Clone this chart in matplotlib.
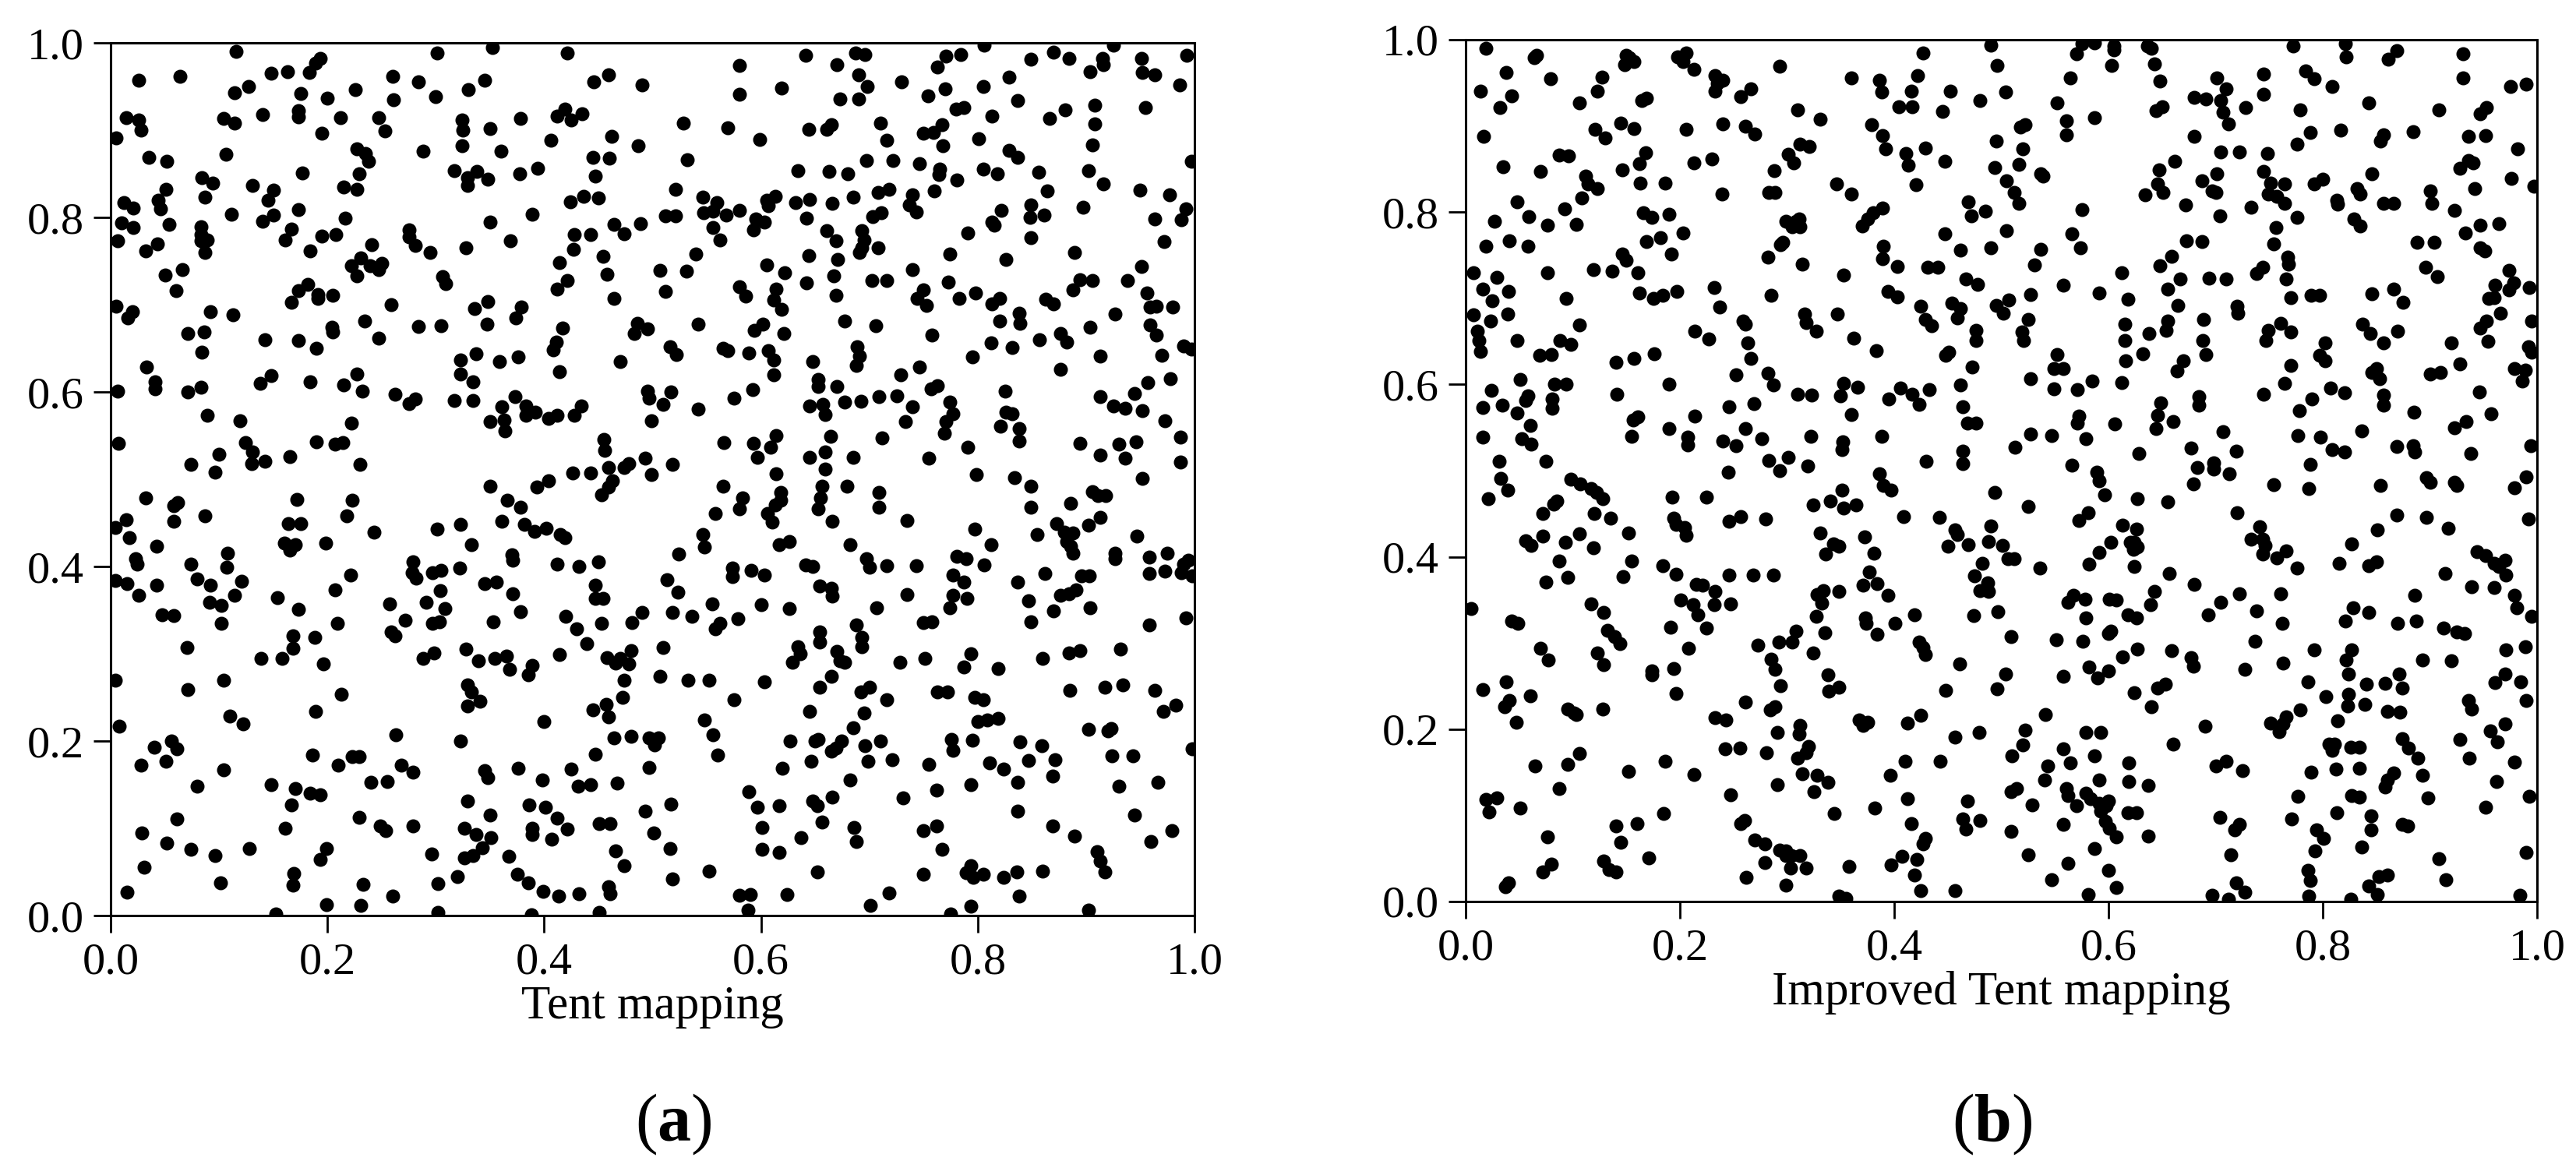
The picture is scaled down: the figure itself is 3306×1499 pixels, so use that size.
import matplotlib
matplotlib.use('Agg')
import matplotlib.pyplot as plt
import numpy as np
from matplotlib.ticker import FormatStrFormatter

# points, (x, y) per quadrant of each panel

tent_upper_left = [
    (0.116,0.99),(0.301,0.988),(0.352,0.995),(0.421,0.988),(0.026,0.957),(0.064,0.962),(0.148,0.965),(0.163,0.967),
    (0.183,0.966),(0.189,0.977),(0.193,0.982),(0.26,0.962),(0.284,0.955),(0.345,0.957),(0.446,0.955),(0.459,0.963),
    (0.49,0.952),(0.114,0.943),(0.127,0.95),(0.175,0.942),(0.2,0.937),(0.226,0.946),(0.261,0.935),(0.3,0.938),
    (0.33,0.946),(0.014,0.914),(0.026,0.912),(0.028,0.9),(0.104,0.913),(0.114,0.908),(0.14,0.918),(0.173,0.922),
    (0.173,0.915),(0.212,0.914),(0.247,0.914),(0.253,0.899),(0.324,0.912),(0.325,0.9),(0.35,0.902),(0.378,0.913),
    (0.412,0.916),(0.419,0.924),(0.425,0.912),(0.435,0.919),(0.005,0.891),(0.195,0.896),(0.462,0.893),(0.035,0.869),
    (0.052,0.864),(0.106,0.872),(0.288,0.876),(0.324,0.882),(0.36,0.876),(0.406,0.888),(0.445,0.869),(0.46,0.868),
    (0.487,0.882),(0.227,0.879),(0.235,0.873),(0.238,0.864),(0.177,0.851),(0.229,0.85),(0.317,0.854),(0.329,0.846),
    (0.338,0.853),(0.348,0.844),(0.329,0.837),(0.377,0.85),(0.394,0.856),(0.447,0.847),(0.084,0.846),(0.094,0.839),
    (0.131,0.837),(0.15,0.831),(0.215,0.835),(0.227,0.832),(0.051,0.832),(0.012,0.817),(0.021,0.811),(0.044,0.82),
    (0.046,0.81),(0.087,0.823),(0.145,0.82),(0.424,0.818),(0.436,0.824),(0.45,0.822),(0.01,0.794),(0.021,0.788),
    (0.054,0.792),(0.111,0.804),(0.14,0.796),(0.15,0.803),(0.173,0.809),(0.216,0.799),(0.35,0.795),(0.389,0.804),
    (0.464,0.792),(0.474,0.781),(0.489,0.793),(0.006,0.773),(0.032,0.762),(0.043,0.77),(0.083,0.789),(0.083,0.78),
    (0.083,0.773),(0.089,0.774),(0.087,0.76),(0.161,0.774),(0.167,0.787),(0.184,0.762),(0.195,0.779),(0.208,0.78),
    (0.275,0.786),(0.275,0.778),(0.281,0.768),(0.295,0.76),(0.241,0.769),(0.328,0.765),(0.369,0.773),(0.428,0.78),
    (0.443,0.78),(0.427,0.763),(0.414,0.748),(0.454,0.755),(0.458,0.735),(0.464,0.707),(0.05,0.734),(0.066,0.74),
    (0.06,0.716),(0.222,0.745),(0.231,0.754),(0.227,0.733),(0.239,0.745),(0.247,0.74),(0.25,0.747),(0.306,0.732),
    (0.309,0.724),(0.412,0.718),(0.421,0.728),(0.173,0.716),(0.182,0.723),(0.191,0.712),(0.191,0.707),(0.205,0.711),
    (0.167,0.703),(0.005,0.698),(0.016,0.685),(0.02,0.692),(0.092,0.692),(0.113,0.688),(0.259,0.7),(0.336,0.696),
    (0.348,0.704),(0.347,0.678),(0.374,0.685),(0.379,0.697),(0.234,0.681),(0.204,0.674),(0.205,0.669),(0.284,0.675),
    (0.305,0.676),(0.417,0.673),(0.483,0.667),(0.486,0.679),(0.495,0.672),(0.071,0.667),(0.086,0.669),(0.084,0.646),
    (0.142,0.66),(0.173,0.659),(0.19,0.65),(0.247,0.662),(0.323,0.637),(0.323,0.621),(0.334,0.612),(0.337,0.644),
    (0.359,0.635),(0.376,0.64),(0.408,0.648),(0.411,0.657),(0.414,0.623),(0.47,0.635),(0.033,0.629),(0.041,0.612),
    (0.041,0.604),(0.006,0.601),(0.071,0.6),(0.083,0.605),(0.138,0.61),(0.148,0.619),(0.184,0.612),(0.215,0.608),
    (0.227,0.621),(0.232,0.601),(0.262,0.597),(0.275,0.587),(0.281,0.592),(0.317,0.59),(0.334,0.59),(0.35,0.566),
    (0.361,0.583),(0.363,0.568),(0.364,0.555),(0.373,0.595),(0.383,0.584),(0.383,0.573),(0.392,0.577),(0.404,0.57),
    (0.412,0.573),(0.428,0.573),(0.434,0.584),(0.495,0.601),(0.497,0.593),(0.089,0.573),(0.119,0.567),(0.222,0.564),
    (0.007,0.541),(0.124,0.542),(0.131,0.531),(0.13,0.518),(0.142,0.521),(0.165,0.526),(0.19,0.543),(0.207,0.54),
    (0.214,0.542),(0.23,0.517),(0.074,0.517),(0.1,0.529),(0.096,0.508),(0.455,0.546),(0.456,0.533),(0.459,0.513),
    (0.426,0.507),(0.443,0.507),(0.474,0.513),(0.478,0.518),(0.493,0.524),(0.499,0.505),
]

tent_upper_right = [
    (0.641,0.986),(0.67,0.975),(0.687,0.988),(0.696,0.987),(0.69,0.963),(0.698,0.95),(0.673,0.936),(0.69,0.936),
    (0.58,0.974),(0.58,0.941),(0.619,0.948),(0.528,0.908),(0.569,0.903),(0.599,0.889),(0.644,0.901),(0.661,0.901),
    (0.665,0.906),(0.532,0.866),(0.73,0.955),(0.754,0.939),(0.763,0.972),(0.771,0.985),(0.784,0.987),(0.806,0.997),
    (0.77,0.947),(0.78,0.924),(0.787,0.926),(0.805,0.95),(0.829,0.961),(0.837,0.934),(0.849,0.981),(0.87,0.989),
    (0.884,0.982),(0.904,0.967),(0.915,0.982),(0.916,0.975),(0.925,0.997),(0.951,0.982),(0.952,0.966),(0.963,0.963),
    (0.986,0.952),(0.993,0.986),(0.955,0.926),(0.908,0.929),(0.881,0.923),(0.866,0.913),(0.813,0.916),(0.71,0.908),
    (0.716,0.888),(0.75,0.896),(0.759,0.897),(0.767,0.906),(0.768,0.882),(0.801,0.89),(0.908,0.907),(0.906,0.883),
    (0.829,0.877),(0.837,0.869),(0.997,0.864),(0.634,0.854),(0.663,0.853),(0.68,0.85),(0.697,0.865),(0.722,0.865),
    (0.746,0.862),(0.765,0.855),(0.764,0.849),(0.781,0.843),(0.805,0.855),(0.818,0.85),(0.856,0.852),(0.902,0.854),
    (0.916,0.838),(0.864,0.83),(0.897,0.812),(0.95,0.831),(0.977,0.826),(0.521,0.832),(0.546,0.823),(0.559,0.817),
    (0.547,0.805),(0.556,0.807),(0.568,0.803),(0.58,0.808),(0.512,0.802),(0.521,0.802),(0.605,0.82),(0.613,0.824),
    (0.607,0.813),(0.595,0.798),(0.603,0.795),(0.593,0.786),(0.632,0.817),(0.645,0.821),(0.642,0.799),(0.666,0.816),
    (0.685,0.823),(0.708,0.829),(0.718,0.832),(0.74,0.826),(0.737,0.814),(0.743,0.806),(0.76,0.83),(0.703,0.801),
    (0.711,0.805),(0.822,0.808),(0.813,0.795),(0.815,0.791),(0.849,0.814),(0.848,0.8),(0.861,0.803),(0.849,0.777),
    (0.963,0.798),(0.992,0.81),(0.988,0.797),(0.972,0.772),(0.791,0.782),(0.661,0.785),(0.669,0.773),(0.693,0.785),
    (0.695,0.774),(0.691,0.76),(0.693,0.765),(0.708,0.765),(0.556,0.788),(0.562,0.774),(0.54,0.758),(0.644,0.756),
    (0.671,0.752),(0.774,0.758),(0.826,0.752),(0.889,0.76),(0.951,0.744),(0.507,0.739),(0.531,0.738),(0.512,0.715),
    (0.605,0.746),(0.622,0.737),(0.642,0.725),(0.667,0.733),(0.669,0.711),(0.702,0.728),(0.716,0.728),(0.74,0.74),
    (0.773,0.726),(0.58,0.721),(0.586,0.71),(0.614,0.718),(0.612,0.705),(0.619,0.695),(0.75,0.717),(0.744,0.707),
    (0.753,0.699),(0.783,0.707),(0.798,0.713),(0.813,0.701),(0.82,0.707),(0.863,0.706),(0.87,0.701),(0.888,0.717),
    (0.894,0.729),(0.906,0.728),(0.938,0.728),(0.956,0.713),(0.959,0.697),(0.965,0.698),(0.98,0.697),(0.927,0.689),
    (0.838,0.69),(0.839,0.679),(0.82,0.681),(0.542,0.678),(0.594,0.671),(0.602,0.678),(0.621,0.667),(0.677,0.681),
    (0.706,0.676),(0.758,0.665),(0.876,0.667),(0.882,0.657),(0.904,0.674),(0.959,0.677),(0.965,0.665),(0.812,0.656),
    (0.832,0.651),(0.857,0.66),(0.516,0.652),(0.522,0.643),(0.565,0.65),(0.569,0.647),(0.589,0.645),(0.607,0.647),
    (0.612,0.637),(0.612,0.62),(0.648,0.635),(0.689,0.652),(0.691,0.641),(0.688,0.63),(0.746,0.629),(0.729,0.62),
    (0.795,0.64),(0.876,0.626),(0.913,0.641),(0.97,0.642),(0.99,0.653),(0.997,0.649),(0.517,0.6),(0.51,0.586),
    (0.499,0.567),(0.542,0.58),(0.575,0.593),(0.592,0.603),(0.645,0.584),(0.653,0.614),(0.653,0.606),(0.657,0.586),
    (0.659,0.574),(0.67,0.606),(0.677,0.588),(0.692,0.589),(0.709,0.595),(0.725,0.596),(0.74,0.583),(0.733,0.566),
    (0.757,0.604),(0.763,0.607),(0.774,0.588),(0.777,0.575),(0.771,0.566),(0.769,0.553),(0.825,0.601),(0.826,0.577),
    (0.832,0.575),(0.821,0.561),(0.838,0.558),(0.838,0.544),(0.913,0.595),(0.925,0.584),(0.936,0.581),(0.945,0.598),
    (0.957,0.611),(0.978,0.615),(0.952,0.579),(0.973,0.567),(0.987,0.548),(0.987,0.52),(0.936,0.524),(0.93,0.54),
    (0.946,0.543),(0.913,0.528),(0.894,0.541),(0.791,0.537),(0.755,0.524),(0.712,0.547),(0.664,0.549),(0.659,0.531),
    (0.659,0.512),(0.645,0.525),(0.685,0.525),(0.614,0.55),(0.609,0.537),(0.593,0.541),(0.597,0.525),(0.566,0.542),
    (0.614,0.506),(0.518,0.517),(0.799,0.505),(0.834,0.502),(0.952,0.501),
]

tent_lower_left = [
    (0.35,0.492),(0.393,0.491),(0.404,0.498),(0.453,0.482),(0.459,0.491),(0.463,0.498),(0.032,0.479),(0.058,0.47),
    (0.062,0.473),(0.058,0.452),(0.087,0.458),(0.172,0.477),(0.223,0.476),(0.218,0.458),(0.366,0.476),(0.378,0.468),
    (0.361,0.452),(0.004,0.445),(0.014,0.454),(0.017,0.433),(0.023,0.409),(0.024,0.403),(0.042,0.423),(0.015,0.38),
    (0.004,0.384),(0.026,0.367),(0.042,0.379),(0.047,0.345),(0.058,0.344),(0.074,0.403),(0.08,0.386),(0.092,0.379),
    (0.091,0.359),(0.102,0.355),(0.102,0.335),(0.108,0.415),(0.107,0.399),(0.114,0.367),(0.121,0.383),(0.07,0.307),
    (0.071,0.259),(0.004,0.27),(0.008,0.217),(0.104,0.27),(0.11,0.229),(0.122,0.22),(0.139,0.295),(0.154,0.364),
    (0.158,0.295),(0.16,0.427),(0.164,0.449),(0.165,0.419),(0.17,0.425),(0.175,0.449),(0.173,0.351),(0.168,0.321),
    (0.168,0.306),(0.198,0.427),(0.188,0.319),(0.196,0.288),(0.207,0.373),(0.209,0.335),(0.213,0.254),(0.221,0.39),
    (0.243,0.439),(0.189,0.234),(0.257,0.357),(0.259,0.325),(0.262,0.321),(0.272,0.338),(0.279,0.405),(0.278,0.393),
    (0.282,0.387),(0.291,0.359),(0.297,0.393),(0.305,0.396),(0.301,0.443),(0.304,0.372),(0.308,0.352),(0.297,0.335),
    (0.303,0.337),(0.288,0.295),(0.298,0.301),(0.323,0.448),(0.333,0.425),(0.322,0.398),(0.328,0.305),(0.339,0.292),
    (0.345,0.38),(0.356,0.382),(0.353,0.337),(0.354,0.295),(0.365,0.297),(0.368,0.282),(0.37,0.413),(0.371,0.407),
    (0.371,0.369),(0.378,0.348),(0.382,0.448),(0.391,0.44),(0.402,0.444),(0.415,0.437),(0.419,0.433),(0.412,0.403),
    (0.432,0.4),(0.42,0.343),(0.43,0.329),(0.439,0.312),(0.414,0.299),(0.385,0.276),(0.389,0.287),(0.447,0.379),
    (0.45,0.405),(0.447,0.363),(0.454,0.363),(0.453,0.335),(0.458,0.296),(0.466,0.289),(0.47,0.295),(0.48,0.304),
    (0.478,0.288),(0.474,0.27),(0.472,0.25),(0.481,0.336),(0.49,0.347),(0.445,0.236),(0.457,0.242),(0.459,0.228),
    (0.464,0.204),(0.48,0.205),(0.447,0.185),(0.467,0.152),(0.497,0.204),(0.497,0.17),(0.443,0.15),(0.431,0.148),
    (0.425,0.168),(0.329,0.264),(0.333,0.256),(0.341,0.246),(0.329,0.24),(0.4,0.222),(0.323,0.2),(0.263,0.207),
    (0.268,0.172),(0.279,0.164),(0.255,0.154),(0.24,0.153),(0.223,0.182),(0.229,0.182),(0.21,0.172),(0.186,0.184),
    (0.184,0.14),(0.193,0.138),(0.17,0.146),(0.167,0.127),(0.148,0.15),(0.161,0.1),(0.345,0.166),(0.348,0.158),
    (0.376,0.169),(0.398,0.155),(0.329,0.131),(0.35,0.115),(0.386,0.127),(0.401,0.124),(0.412,0.112),(0.421,0.099),
    (0.389,0.1),(0.389,0.093),(0.407,0.088),(0.326,0.1),(0.337,0.093),(0.351,0.089),(0.343,0.078),(0.334,0.069),
    (0.326,0.066),(0.367,0.068),(0.375,0.047),(0.385,0.038),(0.399,0.028),(0.413,0.022),(0.432,0.025),(0.459,0.033),
    (0.461,0.025),(0.451,0.004),(0.388,0.001),(0.302,0.004),(0.152,0.002),(0.451,0.105),(0.461,0.105),(0.466,0.074),
    (0.474,0.057),(0.493,0.12),(0.32,0.045),(0.302,0.037),(0.296,0.071),(0.279,0.103),(0.249,0.103),(0.254,0.097),
    (0.229,0.113),(0.233,0.036),(0.231,0.012),(0.26,0.022),(0.199,0.077),(0.193,0.064),(0.199,0.013),(0.169,0.048),
    (0.168,0.035),(0.128,0.077),(0.096,0.069),(0.101,0.038),(0.074,0.076),(0.052,0.083),(0.061,0.111),(0.029,0.095),
    (0.031,0.055),(0.015,0.027),(0.028,0.172),(0.04,0.193),(0.051,0.177),(0.056,0.2),(0.061,0.191),(0.08,0.148),
    (0.104,0.167),
]

tent_lower_right = [
    (0.565,0.492),(0.618,0.485),(0.618,0.476),(0.613,0.471),(0.606,0.461),(0.61,0.451),(0.583,0.479),(0.58,0.466),
    (0.558,0.461),(0.656,0.492),(0.655,0.479),(0.653,0.466),(0.679,0.492),(0.666,0.452),(0.709,0.485),(0.709,0.468),
    (0.735,0.453),(0.849,0.492),(0.849,0.468),(0.886,0.472),(0.906,0.486),(0.911,0.481),(0.918,0.481),(0.913,0.456),
    (0.902,0.447),(0.873,0.449),(0.88,0.439),(0.888,0.438),(0.882,0.429),(0.886,0.423),(0.888,0.415),(0.855,0.437),
    (0.797,0.443),(0.812,0.425),(0.947,0.435),(0.927,0.415),(0.927,0.409),(0.958,0.411),(0.975,0.415),(0.958,0.392),
    (0.973,0.395),(0.99,0.403),(0.994,0.407),(0.988,0.393),(0.998,0.389),(0.992,0.341),(0.958,0.333),(0.546,0.437),
    (0.548,0.422),(0.524,0.414),(0.513,0.385),(0.523,0.371),(0.518,0.347),(0.536,0.343),(0.555,0.357),(0.558,0.329),
    (0.562,0.335),(0.579,0.34),(0.574,0.398),(0.574,0.388),(0.591,0.396),(0.603,0.39),(0.6,0.356),(0.626,0.352),
    (0.617,0.425),(0.626,0.429),(0.682,0.425),(0.641,0.402),(0.648,0.4),(0.654,0.378),(0.665,0.375),(0.666,0.366),
    (0.697,0.409),(0.7,0.399),(0.716,0.401),(0.743,0.401),(0.735,0.368),(0.707,0.353),(0.781,0.412),(0.789,0.409),
    (0.777,0.39),(0.787,0.382),(0.79,0.363),(0.777,0.367),(0.774,0.353),(0.806,0.402),(0.837,0.382),(0.847,0.361),
    (0.849,0.337),(0.862,0.392),(0.87,0.349),(0.876,0.367),(0.884,0.369),(0.891,0.373),(0.896,0.389),(0.903,0.389),
    (0.904,0.353),(0.75,0.336),(0.758,0.337),(0.688,0.333),(0.693,0.319),(0.693,0.308),(0.654,0.325),(0.654,0.313),
    (0.634,0.308),(0.636,0.3),(0.629,0.29),(0.67,0.303),(0.673,0.292),(0.677,0.29),(0.665,0.274),(0.654,0.262),
    (0.51,0.307),(0.728,0.29),(0.751,0.295),(0.794,0.3),(0.787,0.285),(0.819,0.283),(0.86,0.295),(0.884,0.301),
    (0.894,0.304),(0.932,0.305),(0.885,0.258),(0.917,0.262),(0.934,0.264),(0.963,0.258),(0.971,0.234),(0.983,0.241),
    (0.902,0.213),(0.92,0.212),(0.923,0.214),(0.924,0.183),(0.943,0.183),(0.93,0.148),(0.966,0.153),(0.998,0.191),
    (0.945,0.115),(0.979,0.097),(0.96,0.085),(0.889,0.091),(0.869,0.103),(0.91,0.073),(0.913,0.063),(0.917,0.05),
    (0.902,0.006),(0.86,0.051),(0.838,0.022),(0.836,0.05),(0.824,0.044),(0.805,0.047),(0.794,0.057),(0.789,0.049),
    (0.796,0.044),(0.794,0.011),(0.775,0.002),(0.75,0.047),(0.718,0.026),(0.701,0.012),(0.624,0.024),(0.58,0.023),
    (0.59,0.024),(0.588,0.006),(0.552,0.051),(0.518,0.042),(0.652,0.05),(0.516,0.077),(0.601,0.076),(0.617,0.072),
    (0.601,0.101),(0.597,0.124),(0.617,0.126),(0.589,0.142),(0.637,0.089),(0.656,0.107),(0.648,0.131),(0.652,0.126),
    (0.666,0.136),(0.686,0.101),(0.688,0.085),(0.682,0.155),(0.731,0.135),(0.75,0.097),(0.762,0.103),(0.767,0.076),
    (0.762,0.144),(0.755,0.173),(0.794,0.15),(0.837,0.153),(0.837,0.12),(0.811,0.175),(0.824,0.168),(0.847,0.178),
    (0.871,0.179),(0.869,0.16),(0.859,0.195),(0.839,0.199),(0.795,0.201),(0.776,0.202),(0.777,0.189),(0.8,0.222),
    (0.809,0.224),(0.819,0.226),(0.797,0.25),(0.805,0.247),(0.763,0.256),(0.772,0.256),(0.692,0.256),(0.7,0.262),
    (0.716,0.247),(0.695,0.232),(0.685,0.215),(0.674,0.2),(0.669,0.192),(0.665,0.188),(0.696,0.195),(0.71,0.2),
    (0.699,0.177),(0.721,0.179),(0.645,0.234),(0.65,0.2),(0.653,0.202),(0.646,0.177),(0.627,0.2),(0.62,0.169),
    (0.603,0.268),(0.575,0.247),(0.548,0.224),(0.556,0.207),(0.56,0.184),(0.533,0.27),(0.552,0.27),(0.507,0.274),
    (0.502,0.196),(0.505,0.204),(0.501,0.095),(0.517,0.128),
]

improved_upper_left = [
    (0.019,0.99),(0.064,0.979),(0.066,0.982),(0.038,0.962),(0.014,0.94),(0.032,0.921),(0.043,0.935),(0.079,0.955),
    (0.017,0.888),(0.035,0.853),(0.106,0.927),(0.123,0.94),(0.127,0.957),(0.121,0.896),(0.13,0.886),(0.087,0.866),
    (0.096,0.865),(0.07,0.847),(0.112,0.842),(0.114,0.833),(0.123,0.827),(0.108,0.816),(0.048,0.812),(0.027,0.789),
    (0.059,0.795),(0.076,0.785),(0.092,0.804),(0.103,0.786),(0.15,0.982),(0.148,0.971),(0.157,0.975),(0.153,0.979),
    (0.198,0.98),(0.206,0.985),(0.203,0.975),(0.213,0.966),(0.233,0.958),(0.235,0.949),(0.233,0.94),(0.24,0.953),
    (0.257,0.934),(0.266,0.943),(0.164,0.929),(0.169,0.932),(0.145,0.903),(0.157,0.897),(0.206,0.896),(0.24,0.902),
    (0.261,0.9),(0.27,0.891),(0.168,0.869),(0.162,0.856),(0.163,0.834),(0.146,0.849),(0.186,0.834),(0.213,0.857),
    (0.23,0.862),(0.239,0.821),(0.166,0.799),(0.174,0.794),(0.19,0.797),(0.203,0.776),(0.169,0.766),(0.182,0.77),
    (0.192,0.751),(0.019,0.76),(0.041,0.767),(0.058,0.76),(0.007,0.73),(0.029,0.724),(0.016,0.711),(0.04,0.708),
    (0.025,0.697),(0.007,0.681),(0.023,0.674),(0.039,0.682),(0.076,0.73),(0.094,0.7),(0.011,0.662),(0.012,0.651),
    (0.014,0.638),(0.048,0.651),(0.106,0.669),(0.069,0.634),(0.08,0.635),(0.088,0.651),(0.098,0.646),(0.119,0.733),
    (0.137,0.731),(0.146,0.751),(0.15,0.744),(0.161,0.73),(0.162,0.706),(0.175,0.7),(0.184,0.703),(0.197,0.708),
    (0.14,0.626),(0.157,0.63),(0.176,0.636),(0.214,0.662),(0.227,0.653),(0.232,0.712),(0.237,0.69),(0.259,0.674),
    (0.261,0.67),(0.263,0.648),(0.266,0.63),(0.252,0.611),(0.282,0.613),(0.287,0.599),(0.282,0.748),(0.294,0.762),
    (0.296,0.765),(0.299,0.789),(0.305,0.783),(0.311,0.792),(0.312,0.783),(0.308,0.789),(0.314,0.74),(0.285,0.703),
    (0.283,0.823),(0.289,0.823),(0.288,0.848),(0.301,0.867),(0.306,0.857),(0.312,0.879),(0.321,0.876),(0.31,0.919),
    (0.331,0.908),(0.293,0.969),(0.316,0.682),(0.318,0.672),(0.327,0.662),(0.347,0.682),(0.353,0.727),(0.346,0.833),
    (0.36,0.821),(0.36,0.956),(0.37,0.784),(0.375,0.792),(0.38,0.799),(0.389,0.805),(0.379,0.901),(0.389,0.889),
    (0.392,0.873),(0.386,0.953),(0.388,0.939),(0.404,0.922),(0.416,0.94),(0.417,0.922),(0.422,0.958),(0.427,0.985),
    (0.411,0.868),(0.413,0.854),(0.429,0.874),(0.42,0.832),(0.447,0.859),(0.445,0.917),(0.452,0.94),(0.48,0.929),
    (0.49,0.994),(0.496,0.97),(0.495,0.882),(0.494,0.852),(0.469,0.812),(0.472,0.796),(0.485,0.801),(0.447,0.775),
    (0.49,0.759),(0.462,0.756),(0.431,0.736),(0.441,0.736),(0.39,0.76),(0.389,0.746),(0.403,0.737),(0.394,0.708),
    (0.403,0.702),(0.467,0.722),(0.478,0.716),(0.425,0.691),(0.429,0.675),(0.435,0.668),(0.454,0.694),(0.462,0.688),
    (0.459,0.677),(0.495,0.692),(0.476,0.663),(0.476,0.651),(0.451,0.637),(0.448,0.634),(0.473,0.62),(0.383,0.639),
    (0.362,0.654),(0.353,0.601),(0.35,0.587),(0.366,0.597),(0.36,0.565),(0.31,0.589),(0.323,0.588),(0.395,0.583),
    (0.406,0.596),(0.417,0.589),(0.423,0.577),(0.433,0.594),(0.462,0.599),(0.464,0.574),(0.468,0.555),(0.476,0.555),
    (0.051,0.606),(0.024,0.593),(0.016,0.573),(0.034,0.576),(0.048,0.567),(0.056,0.581),(0.058,0.587),(0.06,0.552),
    (0.052,0.537),(0.061,0.531),(0.016,0.539),(0.031,0.511),(0.081,0.583),(0.081,0.572),(0.083,0.6),(0.094,0.6),
    (0.075,0.511),(0.141,0.589),(0.19,0.6),(0.156,0.559),(0.161,0.562),(0.155,0.54),(0.214,0.563),(0.19,0.549),
    (0.207,0.539),(0.207,0.53),(0.246,0.574),(0.269,0.578),(0.261,0.549),(0.24,0.534),(0.252,0.529),(0.276,0.537),
    (0.322,0.54),(0.352,0.533),(0.351,0.524),(0.388,0.54),(0.43,0.511),(0.464,0.523),(0.464,0.508),(0.283,0.512),
    (0.293,0.5),(0.301,0.515),(0.319,0.505),
]

improved_upper_right = [
    (0.57,0.984),(0.575,0.995),(0.587,0.996),(0.605,0.993),(0.605,0.988),(0.603,0.97),(0.636,0.993),(0.64,0.99),
    (0.643,0.972),(0.648,0.952),(0.564,0.956),(0.552,0.927),(0.561,0.906),(0.561,0.89),(0.587,0.91),(0.504,0.939),
    (0.518,0.899),(0.522,0.901),(0.52,0.873),(0.516,0.855),(0.505,0.836),(0.512,0.823),(0.516,0.81),(0.537,0.844),
    (0.539,0.842),(0.505,0.778),(0.537,0.757),(0.531,0.739),(0.558,0.715),(0.527,0.704),(0.507,0.698),(0.502,0.683),
    (0.525,0.675),(0.519,0.661),(0.521,0.651),(0.552,0.635),(0.549,0.618),(0.558,0.618),(0.549,0.595),(0.527,0.607),
    (0.571,0.594),(0.585,0.604),(0.612,0.602),(0.572,0.563),(0.571,0.555),(0.579,0.537),(0.547,0.541),(0.527,0.542),
    (0.513,0.527),(0.566,0.506),(0.606,0.554),(0.628,0.52),(0.647,0.849),(0.646,0.833),(0.634,0.82),(0.651,0.823),
    (0.662,0.859),(0.672,0.808),(0.68,0.888),(0.644,0.918),(0.65,0.922),(0.68,0.933),(0.691,0.931),(0.701,0.956),
    (0.71,0.943),(0.705,0.929),(0.707,0.916),(0.712,0.902),(0.728,0.921),(0.745,0.96),(0.745,0.937),(0.705,0.87),
    (0.722,0.87),(0.748,0.868),(0.701,0.844),(0.687,0.836),(0.697,0.825),(0.7,0.823),(0.704,0.796),(0.733,0.806),
    (0.745,0.847),(0.751,0.834),(0.749,0.821),(0.757,0.818),(0.764,0.833),(0.764,0.81),(0.756,0.782),(0.754,0.763),
    (0.776,0.794),(0.776,0.879),(0.788,0.892),(0.779,0.919),(0.772,0.993),(0.784,0.964),(0.792,0.955),(0.809,0.946),
    (0.821,0.995),(0.822,0.98),(0.861,0.977),(0.869,0.987),(0.843,0.927),(0.817,0.895),(0.854,0.882),(0.857,0.89),
    (0.884,0.893),(0.908,0.919),(0.931,0.984),(0.931,0.956),(0.947,0.914),(0.953,0.921),(0.975,0.946),(0.99,0.948),
    (0.936,0.888),(0.952,0.889),(0.982,0.873),(0.928,0.851),(0.936,0.86),(0.94,0.857),(0.942,0.827),(0.976,0.839),
    (0.997,0.83),(0.846,0.844),(0.792,0.833),(0.8,0.838),(0.813,0.814),(0.814,0.809),(0.832,0.827),(0.835,0.821),
    (0.857,0.81),(0.866,0.81),(0.9,0.825),(0.902,0.81),(0.923,0.802),(0.829,0.792),(0.835,0.784),(0.933,0.776),
    (0.947,0.785),(0.964,0.787),(0.888,0.765),(0.904,0.765),(0.947,0.759),(0.951,0.755),(0.896,0.736),(0.907,0.725),
    (0.974,0.732),(0.961,0.715),(0.974,0.71),(0.978,0.718),(0.993,0.712),(0.955,0.7),(0.96,0.701),(0.966,0.683),
    (0.953,0.674),(0.947,0.665),(0.954,0.65),(0.995,0.674),(0.992,0.644),(0.995,0.637),(0.979,0.618),(0.989,0.617),
    (0.986,0.604),(0.92,0.648),(0.928,0.624),(0.9,0.612),(0.91,0.614),(0.946,0.591),(0.957,0.566),(0.934,0.557),
    (0.923,0.55),(0.885,0.568),(0.857,0.588),(0.857,0.576),(0.846,0.614),(0.85,0.618),(0.853,0.607),(0.846,0.705),
    (0.866,0.711),(0.875,0.695),(0.837,0.67),(0.844,0.659),(0.87,0.662),(0.857,0.648),(0.802,0.648),(0.797,0.634),
    (0.802,0.627),(0.807,0.596),(0.82,0.59),(0.79,0.583),(0.778,0.57),(0.777,0.541),(0.798,0.539),(0.809,0.524),
    (0.82,0.522),(0.836,0.546),(0.869,0.528),(0.884,0.529),(0.886,0.522),(0.938,0.52),(0.994,0.529),(0.788,0.507),
    (0.745,0.589),(0.764,0.601),(0.77,0.622),(0.789,0.703),(0.797,0.703),(0.77,0.701),(0.767,0.748),(0.768,0.74),
    (0.766,0.722),(0.744,0.736),(0.738,0.729),(0.749,0.663),(0.747,0.651),(0.761,0.671),(0.77,0.661),(0.72,0.691),
    (0.721,0.683),(0.71,0.722),(0.694,0.723),(0.689,0.675),(0.688,0.651),(0.691,0.635),(0.667,0.722),(0.655,0.711),
    (0.665,0.692),(0.673,0.767),(0.687,0.766),(0.659,0.749),(0.648,0.738),(0.612,0.73),(0.618,0.699),(0.591,0.706),
    (0.615,0.67),(0.615,0.651),(0.616,0.627),(0.632,0.636),(0.638,0.659),(0.655,0.674),(0.654,0.663),(0.67,0.627),
    (0.664,0.616),(0.684,0.586),(0.684,0.576),(0.649,0.579),(0.646,0.564),(0.644,0.549),(0.66,0.557),(0.707,0.545),
    (0.677,0.526),(0.683,0.504),(0.698,0.509),(0.698,0.502),(0.719,0.523),(0.575,0.803),(0.566,0.775),(0.574,0.759),
]

improved_lower_left = [
    (0.245,0.498),(0.033,0.491),(0.039,0.477),(0.021,0.467),(0.098,0.49),(0.107,0.485),(0.117,0.479),(0.122,0.475),
    (0.128,0.467),(0.085,0.465),(0.082,0.461),(0.072,0.45),(0.12,0.45),(0.135,0.445),(0.193,0.469),(0.194,0.445),
    (0.196,0.438),(0.204,0.434),(0.206,0.425),(0.225,0.469),(0.246,0.441),(0.257,0.447),(0.28,0.444),(0.324,0.46),
    (0.34,0.465),(0.351,0.477),(0.353,0.457),(0.364,0.46),(0.386,0.496),(0.39,0.483),(0.397,0.477),(0.409,0.447),
    (0.442,0.446),(0.457,0.431),(0.459,0.426),(0.469,0.414),(0.488,0.418),(0.494,0.475),(0.49,0.436),(0.056,0.419),
    (0.061,0.413),(0.072,0.424),(0.093,0.417),(0.106,0.427),(0.119,0.41),(0.152,0.428),(0.155,0.395),(0.147,0.377),
    (0.087,0.395),(0.095,0.376),(0.075,0.371),(0.005,0.34),(0.043,0.325),(0.049,0.323),(0.07,0.294),(0.077,0.28),
    (0.117,0.345),(0.129,0.335),(0.132,0.315),(0.139,0.307),(0.144,0.299),(0.123,0.288),(0.129,0.275),(0.184,0.39),
    (0.196,0.38),(0.201,0.35),(0.215,0.368),(0.221,0.367),(0.212,0.344),(0.217,0.333),(0.233,0.36),(0.232,0.344),
    (0.225,0.317),(0.191,0.318),(0.208,0.294),(0.246,0.379),(0.247,0.345),(0.268,0.379),(0.287,0.379),(0.273,0.297),
    (0.292,0.301),(0.305,0.301),(0.308,0.314),(0.285,0.281),(0.289,0.269),(0.294,0.25),(0.324,0.288),(0.327,0.331),
    (0.328,0.356),(0.334,0.361),(0.332,0.346),(0.335,0.312),(0.331,0.428),(0.343,0.415),(0.348,0.412),(0.336,0.403),
    (0.348,0.36),(0.372,0.423),(0.381,0.404),(0.377,0.382),(0.371,0.367),(0.384,0.369),(0.394,0.355),(0.373,0.329),
    (0.374,0.323),(0.384,0.31),(0.401,0.323),(0.419,0.333),(0.423,0.301),(0.427,0.295),(0.429,0.287),(0.45,0.412),
    (0.482,0.392),(0.475,0.378),(0.48,0.361),(0.487,0.37),(0.488,0.36),(0.497,0.336),(0.474,0.332),(0.461,0.276),
    (0.496,0.247),(0.448,0.245),(0.338,0.263),(0.339,0.244),(0.348,0.249),(0.367,0.211),(0.371,0.204),(0.375,0.208),
    (0.412,0.207),(0.425,0.216),(0.457,0.191),(0.479,0.196),(0.443,0.163),(0.41,0.163),(0.396,0.146),(0.412,0.119),
    (0.416,0.09),(0.429,0.073),(0.427,0.067),(0.407,0.052),(0.397,0.042),(0.421,0.049),(0.419,0.031),(0.425,0.013),
    (0.457,0.013),(0.358,0.041),(0.348,0.006),(0.355,0.004),(0.382,0.108),(0.344,0.102),(0.468,0.117),(0.464,0.096),
    (0.467,0.084),(0.48,0.094),(0.289,0.226),(0.284,0.222),(0.261,0.231),(0.233,0.213),(0.243,0.211),(0.242,0.177),
    (0.256,0.178),(0.281,0.173),(0.291,0.196),(0.312,0.204),(0.311,0.194),(0.32,0.18),(0.318,0.173),(0.31,0.166),
    (0.314,0.148),(0.328,0.146),(0.338,0.138),(0.325,0.127),(0.291,0.136),(0.247,0.124),(0.257,0.09),(0.26,0.094),
    (0.27,0.071),(0.279,0.067),(0.279,0.045),(0.293,0.06),(0.299,0.059),(0.299,0.053),(0.304,0.053),(0.312,0.053),
    (0.303,0.039),(0.318,0.039),(0.299,0.019),(0.262,0.028),(0.213,0.147),(0.186,0.163),(0.185,0.102),(0.152,0.151),
    (0.196,0.241),(0.194,0.27),(0.174,0.263),(0.174,0.268),(0.14,0.088),(0.145,0.069),(0.16,0.09),(0.171,0.051),
    (0.129,0.047),(0.134,0.037),(0.14,0.034),(0.076,0.075),(0.08,0.043),(0.072,0.034),(0.037,0.017),(0.04,0.022),
    (0.019,0.118),(0.029,0.12),(0.022,0.104),(0.051,0.108),(0.087,0.131),(0.095,0.159),(0.106,0.172),(0.065,0.157),
    (0.016,0.246),(0.038,0.255),(0.041,0.233),(0.036,0.226),(0.047,0.208),(0.06,0.239),(0.095,0.223),(0.101,0.219),
    (0.103,0.217),(0.128,0.223),
]

improved_lower_right = [
    (0.589,0.498),(0.591,0.488),(0.596,0.472),(0.525,0.458),(0.501,0.413),(0.536,0.387),(0.506,0.398),(0.512,0.398),
    (0.509,0.307),(0.504,0.264),(0.51,0.169),(0.52,0.182),(0.522,0.199),(0.509,0.127),(0.514,0.131),(0.529,0.112),
    (0.509,0.081),(0.525,0.054),(0.541,0.217),(0.558,0.261),(0.551,0.304),(0.572,0.442),(0.581,0.451),(0.582,0.391),
    (0.591,0.405),(0.602,0.417),(0.613,0.437),(0.626,0.432),(0.62,0.417),(0.624,0.417),(0.623,0.409),(0.627,0.411),
    (0.624,0.389),(0.627,0.467),(0.655,0.464),(0.657,0.381),(0.643,0.36),(0.639,0.344),(0.562,0.347),(0.567,0.355),
    (0.578,0.351),(0.579,0.329),(0.576,0.302),(0.601,0.351),(0.607,0.35),(0.618,0.333),(0.626,0.329),(0.6,0.311),
    (0.602,0.314),(0.627,0.293),(0.613,0.284),(0.582,0.272),(0.59,0.259),(0.6,0.268),(0.659,0.291),(0.677,0.283),
    (0.679,0.273),(0.624,0.242),(0.64,0.226),(0.646,0.248),(0.653,0.252),(0.68,0.368),(0.693,0.333),(0.705,0.347),
    (0.722,0.357),(0.72,0.451),(0.679,0.485),(0.713,0.496),(0.754,0.484),(0.787,0.479),(0.741,0.435),(0.733,0.42),
    (0.744,0.42),(0.746,0.413),(0.744,0.403),(0.757,0.399),(0.766,0.407),(0.776,0.387),(0.761,0.357),(0.762,0.323),
    (0.738,0.337),(0.737,0.302),(0.727,0.269),(0.763,0.277),(0.792,0.292),(0.786,0.255),(0.803,0.238),(0.779,0.222),
    (0.766,0.214),(0.763,0.206),(0.751,0.207),(0.759,0.197),(0.69,0.203),(0.66,0.183),(0.815,0.392),(0.827,0.415),
    (0.843,0.39),(0.85,0.394),(0.851,0.431),(0.854,0.483),(0.869,0.448),(0.897,0.446),(0.897,0.492),(0.9,0.486),
    (0.923,0.486),(0.925,0.483),(0.917,0.433),(0.914,0.381),(0.944,0.406),(0.952,0.401),(0.96,0.392),(0.964,0.389),
    (0.97,0.396),(0.971,0.379),(0.939,0.365),(0.96,0.364),(0.979,0.48),(0.99,0.493),(0.992,0.444),(0.979,0.355),
    (0.981,0.341),(0.995,0.331),(0.886,0.355),(0.887,0.325),(0.87,0.323),(0.828,0.341),(0.843,0.335),(0.821,0.325),
    (0.913,0.317),(0.925,0.313),(0.932,0.311),(0.827,0.292),(0.822,0.28),(0.824,0.264),(0.893,0.28),(0.92,0.279),
    (0.971,0.292),(0.989,0.296),(0.871,0.264),(0.874,0.248),(0.858,0.253),(0.841,0.252),(0.824,0.24),(0.823,0.227),
    (0.839,0.229),(0.86,0.221),(0.872,0.22),(0.814,0.21),(0.961,0.254),(0.97,0.264),(0.985,0.255),(0.99,0.233),
    (0.936,0.233),(0.939,0.223),(0.97,0.206),(0.956,0.198),(0.963,0.185),(0.928,0.188),(0.937,0.166),(0.874,0.189),
    (0.88,0.178),(0.889,0.166),(0.893,0.146),(0.898,0.12),(0.979,0.162),(0.962,0.139),(0.993,0.122),(0.952,0.109),
    (0.806,0.183),(0.811,0.183),(0.809,0.175),(0.826,0.179),(0.834,0.179),(0.812,0.154),(0.834,0.155),(0.789,0.15),
    (0.866,0.149),(0.86,0.141),(0.858,0.133),(0.827,0.123),(0.834,0.121),(0.845,0.099),(0.845,0.083),(0.813,0.103),
    (0.874,0.089),(0.879,0.088),(0.794,0.083),(0.801,0.073),(0.793,0.059),(0.836,0.063),(0.908,0.05),(0.915,0.025),
    (0.99,0.057),(0.984,0.007),(0.777,0.122),(0.771,0.096),(0.786,0.036),(0.788,0.024),(0.787,0.006),(0.826,0.003),
    (0.843,0.018),(0.852,0.029),(0.86,0.031),(0.851,0.008),(0.7,0.157),(0.71,0.163),(0.725,0.152),(0.704,0.098),
    (0.718,0.083),(0.722,0.089),(0.714,0.054),(0.719,0.022),(0.727,0.011),(0.697,0.007),(0.712,0.003),(0.637,0.135),
    (0.637,0.076),(0.619,0.161),(0.619,0.139),(0.618,0.103),(0.626,0.103),(0.6,0.117),(0.598,0.111),(0.591,0.141),
    (0.587,0.169),(0.579,0.196),(0.593,0.196),(0.558,0.177),(0.564,0.161),(0.543,0.157),(0.54,0.141),(0.561,0.131),
    (0.562,0.123),(0.579,0.126),(0.583,0.119),(0.57,0.111),(0.591,0.114),(0.593,0.105),(0.597,0.093),(0.601,0.085),
    (0.607,0.075),(0.558,0.089),(0.587,0.061),(0.562,0.044),(0.6,0.036),(0.607,0.016),(0.581,0.008),(0.547,0.025),
]

tick_values = [0.0, 0.2, 0.4, 0.6, 0.8, 1.0]
x_labels = ['Tent mapping', 'Improved Tent mapping']
panel_tags = [r'($\mathbf{a}$)', r'($\mathbf{b}$)']

plt.rcParams['font.family'] = ['Liberation Serif', 'DejaVu Serif']
plt.rcParams['mathtext.fontset'] = 'custom'
plt.rcParams['mathtext.rm'] = 'Liberation Serif'
plt.rcParams['mathtext.bf'] = 'Liberation Serif:bold'

tent = np.array(tent_upper_left + tent_upper_right + tent_lower_left + tent_lower_right)
improved = np.array(improved_upper_left + improved_upper_right + improved_lower_left + improved_lower_right)

fig = plt.figure(figsize=(33.06, 14.99), dpi=100)
ax1 = fig.add_axes([0.0430, 0.2161, 0.4207, 0.7472])
ax2 = fig.add_axes([0.5690, 0.2282, 0.4159, 0.7378])


def draw_panel(ax, pts, label):
    ax.scatter(pts[:, 0], pts[:, 1], s=168, c='black', linewidths=0)
    ax.set_xlim(0, 1)
    ax.set_ylim(0, 1)
    ax.set_xticks(tick_values)
    ax.set_yticks(tick_values)
    ax.xaxis.set_major_formatter(FormatStrFormatter('%.1f'))
    ax.yaxis.set_major_formatter(FormatStrFormatter('%.1f'))
    ax.tick_params(direction='out', length=16, width=2.0, labelsize=42, pad=9)
    for s in ax.spines.values():
        s.set_linewidth(2.2)
    ax.set_xlabel(label, fontsize=44, labelpad=2)


draw_panel(ax1, tent, x_labels[0])
draw_panel(ax2, improved, x_labels[1])

fig.text(864 / 3306, 0.037, panel_tags[0], ha='center', va='center', fontsize=62)
fig.text(2557 / 3306, 0.037, panel_tags[1], ha='center', va='center', fontsize=62)

fig.savefig('out.png', dpi=100)
